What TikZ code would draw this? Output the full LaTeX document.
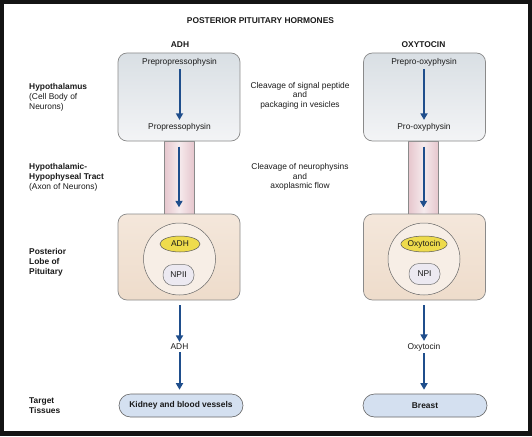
\documentclass[tikz,border=0pt]{standalone}
\usepackage{fontspec}
\setmainfont{Liberation Sans}
\usetikzlibrary{shapes.geometric,arrows.meta}
\definecolor{arr}{HTML}{1F4E8C}
\definecolor{boxline}{HTML}{8A8A8A}
\definecolor{hyptop}{HTML}{D9DFE4}
\definecolor{hypbot}{HTML}{F3F4F6}
\definecolor{tractedge}{HTML}{E6C6CD}
\definecolor{tractmid}{HTML}{F6EBED}
\definecolor{lobetop}{HTML}{F4E7DB}
\definecolor{lobebot}{HTML}{EEDCCB}
\definecolor{circfill}{HTML}{F7EEE6}
\definecolor{hormfill}{HTML}{EEDB4C}
\definecolor{npfill}{HTML}{ECE9F1}
\definecolor{tgtfill}{HTML}{D4E0F0}
\definecolor{txt}{HTML}{1A1A1A}
\begin{document}
\begin{tikzpicture}[x=1pt,y=-1pt,
  font=\fontsize{8.4}{10}\selectfont, text=txt,
  box/.style={draw=boxline, line width=0.7pt, rounded corners=9pt, minimum width=122pt, inner sep=0pt},
  hypbox/.style={box, minimum height=88pt, top color=hyptop, bottom color=hypbot},
  lobebox/.style={box, minimum height=86pt, top color=lobetop, bottom color=lobebot},
  tractbox/.style={draw=boxline, line width=0.6pt, minimum width=30pt, minimum height=73pt, inner sep=0pt,
    left color=tractedge, right color=tractedge, middle color=tractmid},
  vesicle/.style={circle, draw=black!60, line width=0.5pt, fill=circfill, minimum size=72pt, inner sep=0pt},
  horm/.style={ellipse, draw=black!65, line width=0.5pt, fill=hormfill, minimum width=40pt, minimum height=16pt, inner sep=0pt},
  npbox/.style={draw=black!55, line width=0.5pt, fill=npfill, rounded corners=10pt, minimum width=31pt, minimum height=21pt, inner sep=0pt},
  tgtbox/.style={draw=black!60, line width=0.6pt, fill=tgtfill, rounded corners=11.5pt, minimum width=124pt, minimum height=23pt, inner sep=0pt, font=\fontsize{8.4}{10}\selectfont\bfseries},
  lbl/.style={anchor=west, align=left, inner sep=0pt},
  mid/.style={align=center, inner sep=0pt, font=\fontsize{8.4}{9.5}\selectfont},
  txtnode/.style={inner sep=1pt},
  flow/.style={draw=arr, line width=2pt, -{Triangle[length=6.5pt,width=7pt]}}
]
\fill[black!92] (0,0) rectangle (532,436);
\fill[white] (4,4) rectangle (528,431);
\useasboundingbox (0,0) rectangle (532,436);

% titles
\node[font=\fontsize{8.4}{10}\selectfont\bfseries] (title) at (260.5,21) {POSTERIOR PITUITARY HORMONES};
\node[font=\fontsize{8.4}{10}\selectfont\bfseries] (headA) at (180,45) {ADH};
\node[font=\fontsize{8.4}{10}\selectfont\bfseries] (headB) at (423.5,45) {OXYTOCIN};

% left labels
\node[lbl] (lab1) at (29,97) {\textbf{Hypothalamus}\\(Cell Body of\\Neurons)};
\node[lbl] (lab2) at (29,177.5) {\textbf{Hypothalamic-}\\\textbf{Hypophyseal Tract}\\(Axon of Neurons)};
\node[lbl] (lab3) at (29,262) {\textbf{Posterior}\\\textbf{Lobe of}\\\textbf{Pituitary}};
\node[lbl] (lab4) at (29,406) {\textbf{Target}\\\textbf{Tissues}};

% middle texts
\node[mid] (mid1) at (300,95.5) {Cleavage of signal peptide\\and\\packaging in vesicles};
\node[mid] (mid2) at (300,177) {Cleavage of neurophysins\\and\\axoplasmic flow};

% ADH column
\node[tractbox] (tractA) at (179,177.5) {};
\node[hypbox] (hypA) at (179,97) {};
\node[lobebox] (lobeA) at (179,257) {};
\node[txtnode] (preA) at (179.5,62) {Prepropressophysin};
\node[txtnode] (proA) at (179.5,127) {Propressophysin};
\node[vesicle] (vesA) at (179.5,259) {};
\node[horm] (hormA) at (180,244) {ADH};
\node[npbox] (npA) at (178.5,275) {NPII};
\node[txtnode] (relA) at (179.5,347) {ADH};
\node[tgtbox] (tgtA) at (181,405.5) {Kidney and blood vessels};

% Oxytocin column
\node[tractbox] (tractB) at (423.5,177.5) {};
\node[hypbox] (hypB) at (424.5,97) {};
\node[lobebox] (lobeB) at (424.5,257) {};
\node[txtnode] (preB) at (424,62) {Prepro-oxyphysin};
\node[txtnode] (proB) at (424,127) {Pro-oxyphysin};
\node[vesicle] (vesB) at (424,259) {};
\node[horm] (hormB) at (424,244) {Oxytocin};
\node[npbox] (npB) at (424.5,274) {NPI};
\node[txtnode] (relB) at (424,347) {Oxytocin};
\node[tgtbox] (tgtB) at (425,405.5) {Breast};

% arrows
\foreach \c in {A,B}{
  \draw[flow, shorten <=2pt, shorten >=2pt] (pre\c) -- (pro\c);
  \draw[flow, shorten <=6pt, shorten >=7pt] (tract\c.north) -- (tract\c.south);
  \draw[flow, shorten <=5pt, shorten >=1pt] (lobe\c.south -| rel\c) -- (rel\c.north);
  \draw[flow, shorten <=1pt, shorten >=4pt] (rel\c.south) -- (tgt\c.north -| rel\c);
}
\end{tikzpicture}
\end{document}
